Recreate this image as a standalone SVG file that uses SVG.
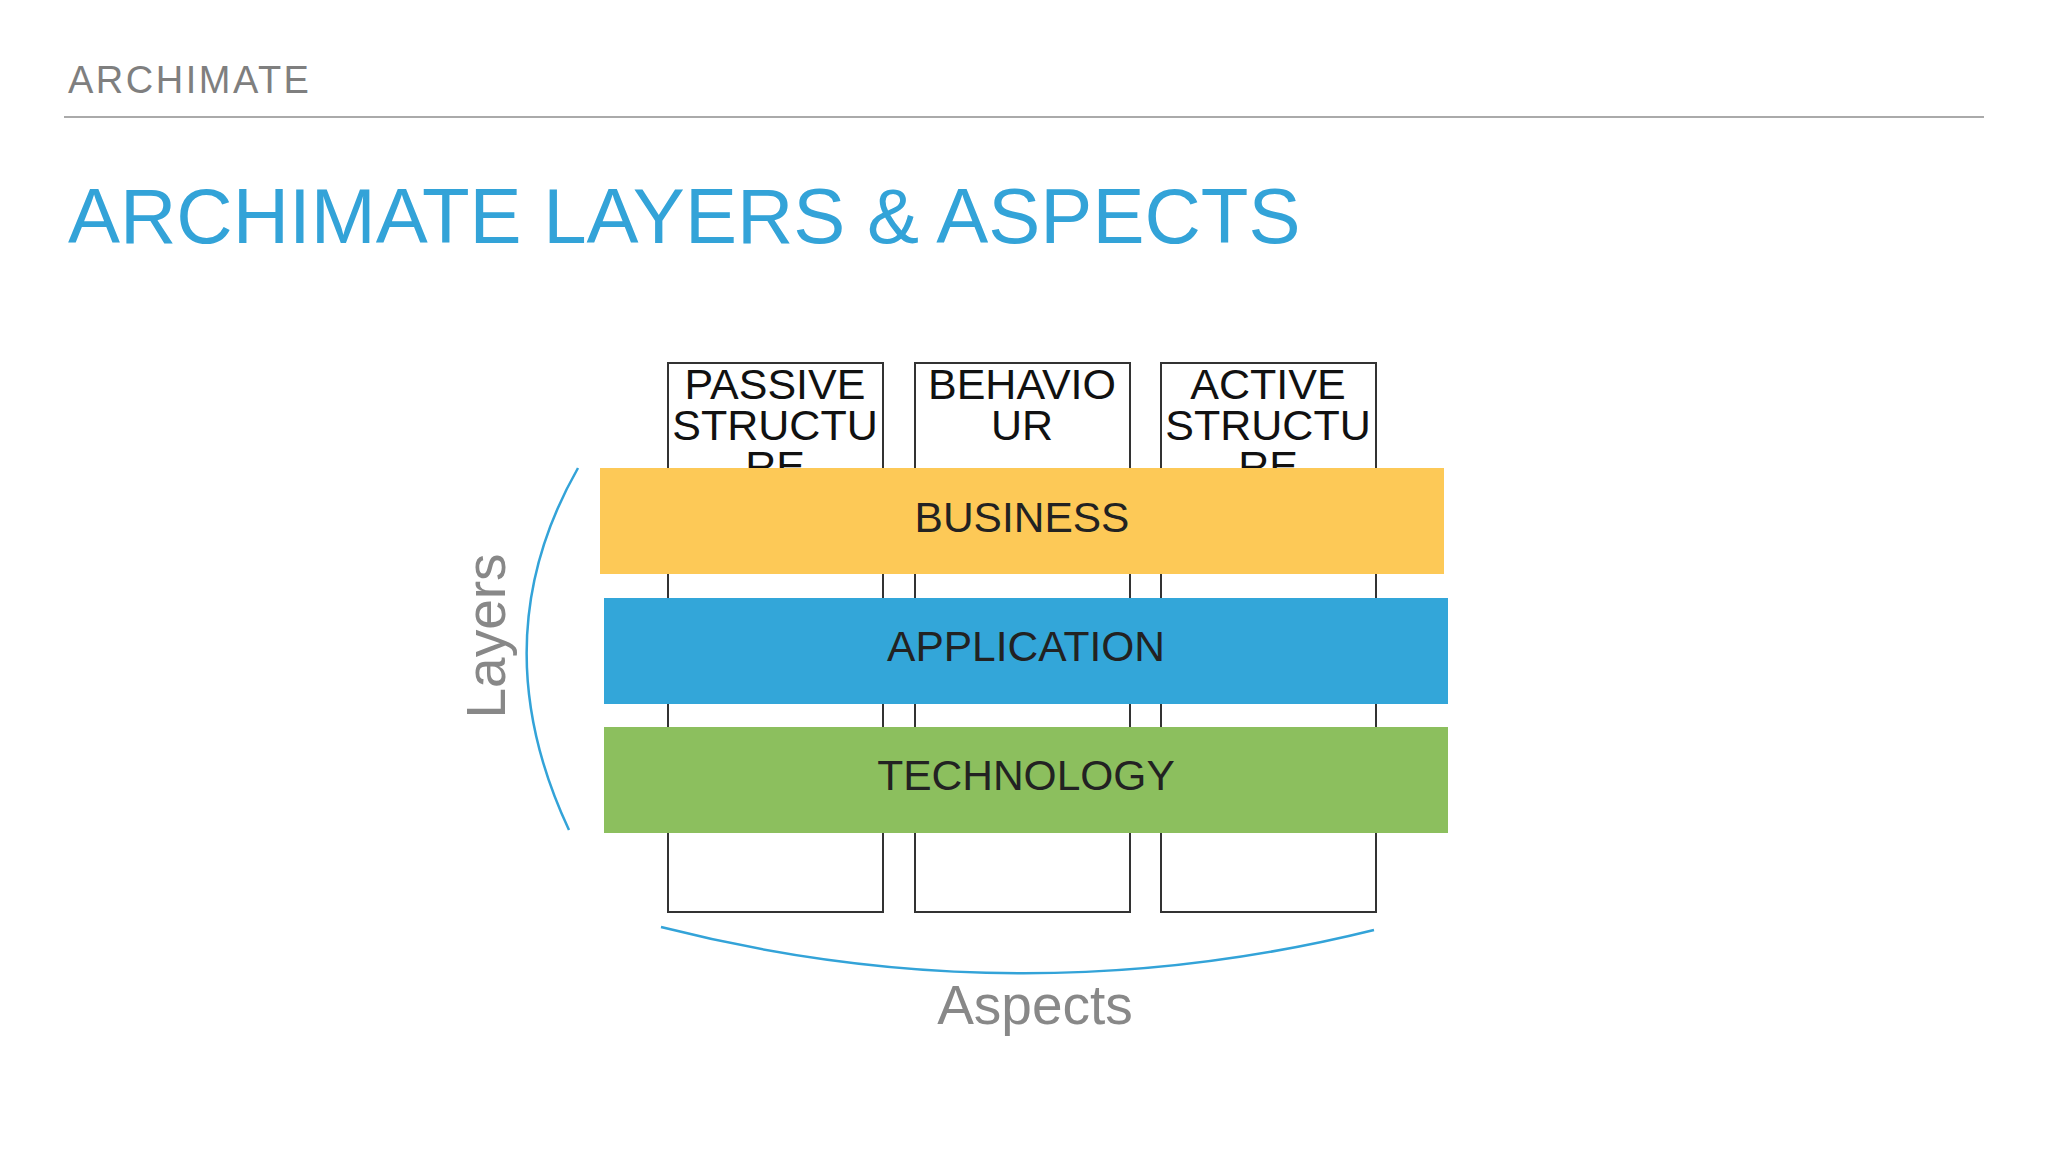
<svg xmlns="http://www.w3.org/2000/svg" width="2048" height="1152" viewBox="0 0 2048 1152">
<style>
.col{fill:#fff;stroke:#333;stroke-width:2}
.ct{font-family:"Liberation Sans",Arial,sans-serif;font-size:43px;fill:#111;text-anchor:middle}
.bt{font-family:"Liberation Sans",Arial,sans-serif;font-size:42.5px;fill:#222;text-anchor:middle}
.gray{font-family:"Liberation Sans",Arial,sans-serif;fill:#888;text-anchor:middle}
.arc{fill:none;stroke:#33a3d8;stroke-width:2.5}
</style>
<rect width="2048" height="1152" fill="#fff"/>
<text x="68" y="93" font-family="Liberation Sans,Arial,sans-serif" font-size="38" fill="#7f7f7f" letter-spacing="2.5">ARCHIMATE</text>
<line x1="64" y1="117" x2="1984" y2="117" stroke="#aaa" stroke-width="2"/>
<text x="68" y="243" font-family="Liberation Sans,Arial,sans-serif" font-size="78" fill="#33a3d8">ARCHIMATE LAYERS &amp; ASPECTS</text>
<g id="col-passive"><rect class="col" x="668" y="363" width="215" height="549"/><text class="ct" x="775" y="399">PASSIVE</text><text class="ct" x="775" y="440">STRUCTU</text><text class="ct" x="775" y="481">RE</text></g>
<g id="col-behaviour"><rect class="col" x="915" y="363" width="215" height="549"/><text class="ct" x="1022" y="399">BEHAVIO</text><text class="ct" x="1022" y="440">UR</text></g>
<g id="col-active"><rect class="col" x="1161" y="363" width="215" height="549"/><text class="ct" x="1268" y="399">ACTIVE</text><text class="ct" x="1268" y="440">STRUCTU</text><text class="ct" x="1268" y="481">RE</text></g>
<g id="business"><rect x="600" y="468" width="844" height="106" fill="#fdc957"/><text class="bt" x="1022" y="532">BUSINESS</text></g>
<g id="application"><rect x="604" y="598" width="844" height="106" fill="#33a6d9"/><text class="bt" x="1026" y="661">APPLICATION</text></g>
<g id="technology"><rect x="604" y="727" width="844" height="106" fill="#8cbf5e"/><text class="bt" x="1026" y="790">TECHNOLOGY</text></g>
<g id="connectors">
<path class="arc" d="M578 468 Q480 640 569 830"/>
<path class="arc" d="M661 927 Q1018 1018 1374 930"/>
</g>
<text class="gray" font-size="55" transform="translate(505 636) rotate(-90)">Layers</text>
<text class="gray" font-size="55" x="1035" y="1024">Aspects</text>
</svg>
